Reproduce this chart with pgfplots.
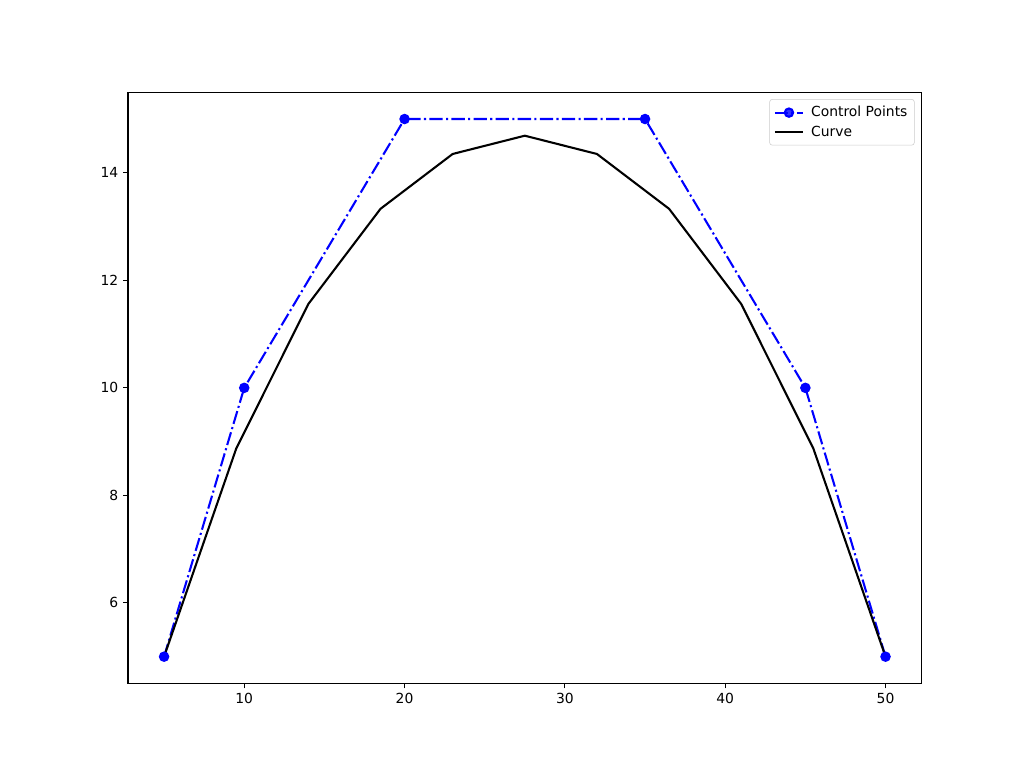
\documentclass[border=0pt]{standalone}
\usepackage{pgfplots}
\pgfplotsset{compat=1.18}
\usepackage{fontspec}
\setmainfont{DejaVu Sans}
\begin{document}
\begin{tikzpicture}
\begin{axis}[
  scale only axis,
  width=7.936in, height=5.914in,
  xmin=2.75, xmax=52.25, ymin=4.5, ymax=15.5,
  xtick={10,20,30,40,50}, ytick={6,8,10,12,14},
  tick align=outside, major tick length=3.5bp,
  xtick pos=bottom, ytick pos=left,
  axis line style={line width=0.8bp},
  every tick/.style={black, line width=0.8bp},
  tick label style={font=\fontsize{10bp}{12bp}\selectfont},
  /pgf/number format/assume math mode=true,
  legend style={at={(1,1)}, anchor=north east, xshift=-5bp, yshift=-5bp,
    draw=black!20, rounded corners=2bp, fill=white, fill opacity=0.8, text opacity=1,
    font=\fontsize{10bp}{12bp}\selectfont, row sep=1bp, inner sep=3bp},
  legend cell align=left,
  legend image code/.code={\draw[mark repeat=2,mark phase=2,#1] plot coordinates {(0cm,0cm) (0.36cm,0cm) (0.72cm,0cm)};},
]
\addplot[blue, line width=1.5bp, dash pattern=on 9.6bp off 2.4bp on 1.5bp off 2.4bp,
  mark=*, mark size=3bp, mark options={solid, fill=blue, draw=blue}]
  coordinates {(5,5) (10,10) (20,15) (35,15) (45,10) (50,5)};
\addlegendentry{\hspace{3bp}Control Points}
\addplot[black, line width=1.5bp, mark=none]
  coordinates {(5,5) (9.5,8.87) (14,11.56) (18.5,13.33) (23,14.35) (27.5,14.69) (32,14.35) (36.5,13.33) (41,11.56) (45.5,8.87) (50,5)};
\addlegendentry{\hspace{3bp}Curve}
\end{axis}
\pgfresetboundingbox
\path (current axis.south west) ++(-1.28in,-0.84in) coordinate (bl);
\path (current axis.north east) ++(1.024in,0.9216in) coordinate (tr);
\path (bl) rectangle (tr);
\end{tikzpicture}
\end{document}
